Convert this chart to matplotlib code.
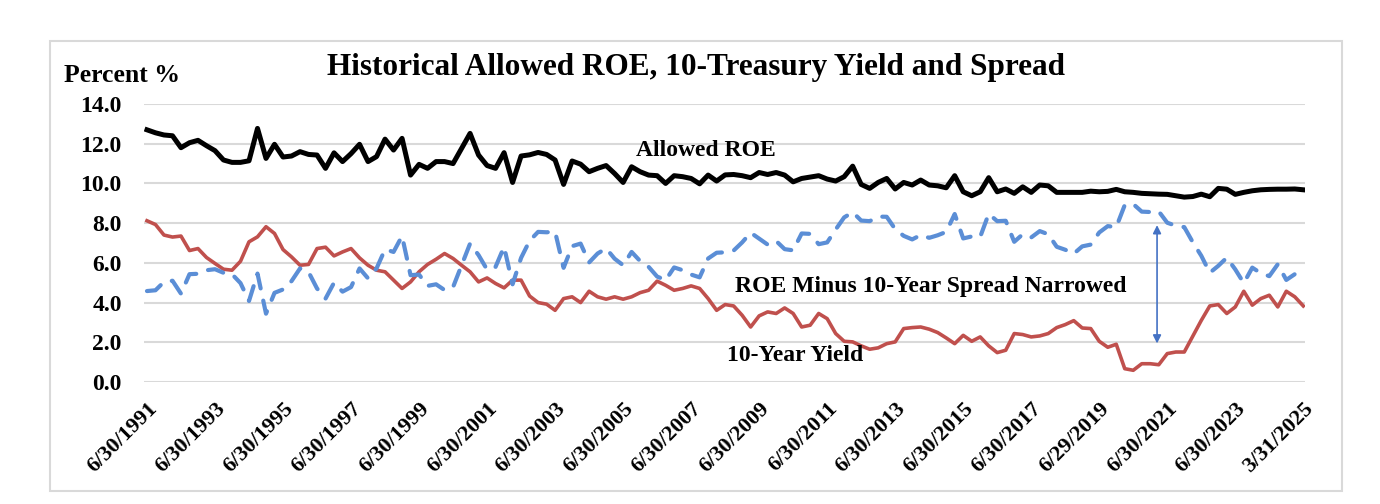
import numpy as np
import matplotlib
matplotlib.use("Agg")
import matplotlib.pyplot as plt
from matplotlib.patches import Rectangle

# quarterly values, 6/30/1991 .. 3/31/2025
allowed_roe = [
    12.70, 12.55, 12.44, 12.40, 11.80, 12.05, 12.17, 11.90, 11.65, 11.18,
    11.06, 11.06, 11.14, 12.77, 11.26, 11.97, 11.33, 11.38, 11.60, 11.46,
    11.43, 10.76, 11.54, 11.10, 11.50, 11.97, 11.10, 11.35, 12.23, 11.68,
    12.27, 10.42, 10.96, 10.76, 11.10, 11.10, 11.00, 11.76, 12.52, 11.43,
    10.90, 10.76, 11.55, 10.05, 11.38, 11.44, 11.56, 11.46, 11.18, 9.95,
    11.13, 10.97, 10.59, 10.76, 10.90, 10.50, 10.05, 10.84, 10.59, 10.42,
    10.39, 10.00, 10.39, 10.34, 10.25, 9.98, 10.42, 10.12, 10.43, 10.45,
    10.39, 10.29, 10.55, 10.45, 10.55, 10.42, 10.08, 10.25, 10.32, 10.39,
    10.22, 10.12, 10.34, 10.87, 9.95, 9.75, 10.05, 10.25, 9.72, 10.05,
    9.92, 10.17, 9.92, 9.88, 9.78, 10.39, 9.58, 9.38, 9.58, 10.29,
    9.58, 9.72, 9.50, 9.83, 9.55, 9.92, 9.88, 9.55, 9.55, 9.55,
    9.55, 9.61, 9.58, 9.60, 9.70, 9.58, 9.55, 9.50, 9.48, 9.46,
    9.45, 9.38, 9.31, 9.34, 9.46, 9.33, 9.75, 9.71, 9.45, 9.55,
    9.63, 9.68, 9.70, 9.71, 9.71, 9.72, 9.68,
]

treasury_10y = [
    8.12, 7.93, 7.40, 7.30, 7.35, 6.62, 6.72, 6.27, 5.97, 5.68,
    5.63, 6.08, 7.06, 7.31, 7.82, 7.48, 6.67, 6.30, 5.88, 5.92,
    6.72, 6.79, 6.35, 6.55, 6.72, 6.25, 5.88, 5.63, 5.55, 5.13,
    4.71, 5.04, 5.55, 5.92, 6.18, 6.47, 6.22, 5.88, 5.55, 5.04,
    5.24, 4.96, 4.74, 5.13, 5.13, 4.33, 4.00, 3.92, 3.61, 4.20,
    4.29, 4.00, 4.57, 4.29, 4.17, 4.29, 4.17, 4.29, 4.50, 4.62,
    5.08, 4.87, 4.62, 4.71, 4.84, 4.71, 4.20, 3.61, 3.90, 3.83,
    3.36, 2.77, 3.33, 3.53, 3.45, 3.73, 3.45, 2.77, 2.86, 3.45,
    3.19, 2.44, 2.05, 2.02, 1.82, 1.65, 1.72, 1.93, 2.02, 2.69,
    2.74, 2.77, 2.66, 2.49, 2.22, 1.93, 2.35, 2.05, 2.27, 1.82,
    1.48, 1.60, 2.44, 2.39, 2.27, 2.32, 2.44, 2.74, 2.89, 3.09,
    2.72, 2.69, 2.05, 1.75, 1.90, 0.67, 0.59, 0.92, 0.92, 0.87,
    1.43, 1.51, 1.51, 2.30, 3.10, 3.83, 3.90, 3.45, 3.78, 4.57,
    3.87, 4.20, 4.37, 3.78, 4.57, 4.29, 3.83,
]

spread = [
    4.58, 4.62, 5.04, 5.10, 4.45, 5.43, 5.45, 5.63, 5.68, 5.50,
    5.43, 4.98, 4.08, 5.46, 3.44, 4.49, 4.66, 5.08, 5.72, 5.54,
    4.71, 4.20, 5.00, 4.55, 4.78, 5.72, 5.22, 5.72, 6.68, 6.55,
    7.35, 5.38, 5.41, 4.84, 4.92, 4.63, 4.78, 5.88, 6.97, 6.39,
    5.66, 5.80, 6.81, 4.92, 6.25, 7.11, 7.56, 7.54, 7.57, 5.75,
    6.84, 6.97, 6.02, 6.47, 6.73, 6.21, 5.88, 6.55, 6.09, 5.80,
    5.31, 5.13, 5.77, 5.63, 5.41, 5.27, 6.22, 6.51, 6.53, 6.62,
    7.03, 7.52, 7.22, 6.92, 7.10, 6.69, 6.63, 7.48, 7.46, 6.94,
    7.03, 7.68, 8.29, 8.55, 8.13, 8.10, 8.33, 8.32, 7.70, 7.36,
    7.18, 7.40, 7.26, 7.39, 7.56, 8.46, 7.23, 7.33, 7.31, 8.47,
    8.10, 8.12, 7.06, 7.44, 7.28, 7.60, 7.44, 6.81, 6.66, 6.46,
    6.83, 6.92, 7.53, 7.85, 7.80, 8.91, 8.96, 8.58, 8.56, 8.59,
    8.02, 7.87, 7.80, 7.04, 6.36, 5.50, 5.85, 6.26, 5.67, 4.98,
    5.76, 5.48, 5.33, 5.93, 5.14, 5.43, 5.85,
]

tick_labels = [
    "6/30/1991", "6/30/1993", "6/30/1995", "6/30/1997", "6/30/1999",
    "6/30/2001", "6/30/2003", "6/30/2005", "6/30/2007", "6/30/2009",
    "6/30/2011", "6/30/2013", "6/30/2015", "6/30/2017", "6/29/2019",
    "6/30/2021", "6/30/2023", "3/31/2025",
]

SERIF = "Liberation Serif"

fig = plt.figure(figsize=(13.8, 5.04), dpi=100)
W, H = 1380, 504

# light grey chart border
fig.patches.append(Rectangle((50 / W, 1 - 491 / H), (1342 - 50) / W, (491 - 41) / H,
                             transform=fig.transFigure, fill=False,
                             edgecolor="#d9d9d9", lw=1.5))

ax = fig.add_axes([144 / W, 1 - 382 / H, (1305 - 144) / W, (382 - 104) / H])

x = np.arange(len(allowed_roe))
ax.plot(x, allowed_roe, color="black", lw=3.6, solid_joinstyle="round", zorder=4)
ax.plot(x, treasury_10y, color="#C0504D", lw=2.6, solid_joinstyle="round", zorder=3)
ax.plot(x, spread, color="#5B8ED6", lw=3.0, linestyle=(0, (3.8, 3.0)),
        dash_capstyle="round", zorder=3)

ax.set_ylim(0, 14)
ax.set_xlim(-0.35, 136.2)
ax.set_yticks(np.arange(0, 14.1, 2))
ax.set_yticklabels([f"{v:.1f}" for v in np.arange(0, 14.1, 2)],
                   fontfamily=SERIF, fontweight="bold", fontsize=17)
ax.set_xticks(range(0, len(allowed_roe), 8))
ax.set_xticklabels(tick_labels, rotation=45, ha="right", rotation_mode="anchor",
                   fontfamily=SERIF, fontweight="bold", fontsize=16)
ax.tick_params(axis="y", length=0, pad=16)
ax.tick_params(axis="x", length=0, pad=12)
ax.grid(axis="y", color="#d9d9d9", lw=1.5)
ax.set_axisbelow(True)
for s in ax.spines.values():
    s.set_visible(False)

# spread arrow around 2020
ax.annotate("", xy=(118.8, 1.94), xytext=(118.8, 7.9),
            arrowprops=dict(arrowstyle="<|-|>", color="#4472C4", lw=1.2,
                            mutation_scale=12, shrinkA=0, shrinkB=0))

ax.text(57.5, 11.68, "Allowed ROE", fontfamily=SERIF, fontweight="bold",
        fontsize=17, va="center", ha="left")
ax.text(69.2, 4.83, "ROE Minus 10-Year Spread Narrowed", fontfamily=SERIF,
        fontweight="bold", fontsize=17, va="center", ha="left")
ax.text(68.2, 1.35, "10-Year Yield", fontfamily=SERIF, fontweight="bold",
        fontsize=17, va="center", ha="left")

fig.text(696 / W, 1 - 68 / H, "Historical Allowed ROE, 10-Treasury Yield and Spread",
         fontfamily=SERIF, fontweight="bold", fontsize=22.5, ha="center", va="center")
fig.text(64 / W, 1 - 76 / H, "Percent %", fontfamily=SERIF, fontweight="bold",
         fontsize=18.5, ha="left", va="center")

fig.savefig("out.png", dpi=100)
